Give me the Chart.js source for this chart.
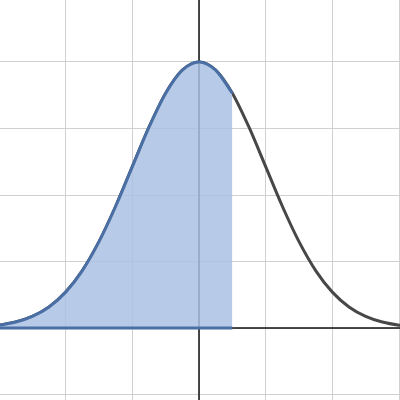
<!DOCTYPE html>
<html><head><script src="https://cdn.jsdelivr.net/npm/chart.js@4"></script>
<style>html,body{margin:0;padding:0;background:#fff}#w{width:400px;height:400px}</style></head>
<body><div id="w"><canvas id="c"></canvas></div>
<script>
const xs = [-3,-2.75,-2.5,-2.25,-2,-1.75,-1.5,-1.25,-1,-0.75,-0.5,-0.25,0,0.25,0.5,0.75,1,1.25,1.5,1.75,2,2.25,2.5,2.75,3,3.25];
const ys = [0.044,0.091,0.176,0.318,0.541,0.865,1.299,1.831,2.426,3.019,3.530,3.877,4,3.877,3.530,3.019,2.426,1.831,1.299,0.865,0.541,0.318,0.176,0.091,0.044,0.021];
const shadeEnd = 0.5;
const curve = xs.map((x,i)=>({x, y: ys[i]}));
const shade = curve.filter(p=>p.x<=shadeEnd);
const baseLine = [{x:-3.2,y:0},{x:shadeEnd,y:0}];
const axisPlugin = {id:'ax', beforeDatasetsDraw(ch){const {ctx,scales:{x,y}}=ch;ctx.save();ctx.strokeStyle='#111';ctx.lineWidth=1.5;
ctx.beginPath();ctx.moveTo(x.getPixelForValue(0),0);ctx.lineTo(x.getPixelForValue(0),400);
ctx.moveTo(0,y.getPixelForValue(0));ctx.lineTo(400,y.getPixelForValue(0));ctx.stroke();ctx.restore();}};
new Chart(document.getElementById('c'),{type:'line',
data:{datasets:[
{data:baseLine,borderColor:'#4a6fa5',borderWidth:3,pointRadius:0,order:1},
{data:shade,borderColor:'#4a6fa5',borderWidth:3,pointRadius:0,tension:0.4,cubicInterpolationMode:'monotone',fill:'origin',backgroundColor:'rgba(170,194,228,0.85)',order:2},
{data:curve,borderColor:'#474747',borderWidth:3,pointRadius:0,tension:0.4,cubicInterpolationMode:'monotone',fill:false,order:3}
]},
options:{animation:false,responsive:true,maintainAspectRatio:false,layout:{padding:0},
plugins:{legend:{display:false},tooltip:{enabled:false}},
scales:{x:{type:'linear',min:-2.985,max:3.015,afterBuildTicks:s=>{s.ticks=[-2,-1,0,1,2,3].map(v=>({value:v}))},ticks:{display:false},grid:{color:'#d0d0d0',drawTicks:false},border:{display:false}},
y:{type:'linear',min:-1.08,max:4.93,afterBuildTicks:s=>{s.ticks=[-1,0,1,2,3,4].map(v=>({value:v}))},ticks:{display:false},grid:{color:'#d0d0d0',drawTicks:false},border:{display:false}}}},
plugins:[axisPlugin]});
</script></body></html>
